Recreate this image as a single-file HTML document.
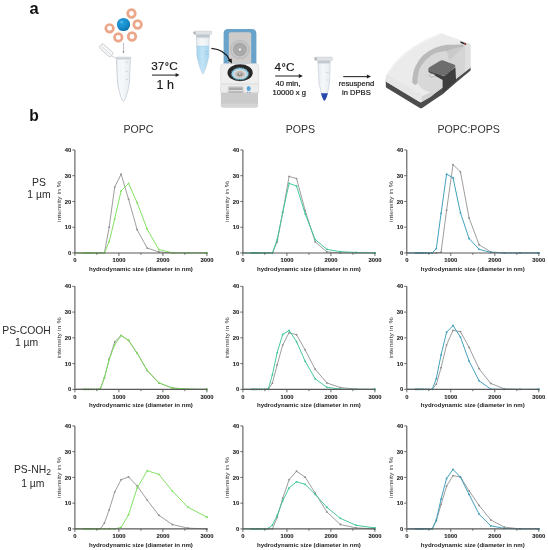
<!DOCTYPE html>
<html><head><meta charset="utf-8"><style>
html,body{margin:0;padding:0;background:#fff;overflow:hidden;width:548px;height:550px;}
svg{display:block;}
text{font-family:"Liberation Sans",Arial,sans-serif;}
.tk{font-size:5.85px;font-weight:bold;fill:#2a2a2a;stroke:#2a2a2a;stroke-width:0.12px;}
.xl{font-size:6.1px;font-weight:bold;fill:#222;}
.yl{font-size:7.0px;fill:#3c3c3c;}
.hd{font-size:10.6px;fill:#333;}
.rl{font-size:10.4px;fill:#2a2a2a;}
.pl{font-size:16.5px;font-weight:bold;fill:#111;}
.ar{font-size:11.8px;fill:#1a1a1a;stroke:#1a1a1a;stroke-width:0.18px;}
.sm{font-size:7.6px;fill:#1e1e1e;stroke:#1e1e1e;stroke-width:0.22px;}
</style></head><body>
<svg width="548" height="550" viewBox="0 0 548 550">
<rect width="548" height="550" fill="#fff"/>
<text x="29.6" y="13.6" class="pl">a</text>
<text x="29.2" y="120.9" class="pl" style="font-size:15.6px">b</text>
<defs>
<radialGradient id="bs" cx="0.4" cy="0.35" r="0.65">
<stop offset="0" stop-color="#2aa3e0"/><stop offset="0.7" stop-color="#1588c8"/><stop offset="1" stop-color="#0d6fa8"/>
</radialGradient>
<linearGradient id="lq" x1="0" y1="0" x2="1" y2="0">
<stop offset="0" stop-color="#a3d2ee"/><stop offset="0.45" stop-color="#c3e4f6"/><stop offset="1" stop-color="#a6d4ee"/>
</linearGradient>
<linearGradient id="tb" x1="0" y1="0" x2="1" y2="0">
<stop offset="0" stop-color="#e4ebf1"/><stop offset="0.4" stop-color="#f6f8fa"/><stop offset="1" stop-color="#e6edf2"/>
</linearGradient>
</defs>
<!-- liposomes -->
<g fill="none" stroke="#eca68a" stroke-width="2.7">
<circle cx="131.5" cy="13.5" r="3.8"/>
<circle cx="137.6" cy="24.5" r="3.8"/>
<circle cx="132" cy="36.5" r="3.8"/>
<circle cx="118.3" cy="37.4" r="3.8"/>
<circle cx="109.6" cy="28.3" r="3.8"/>
</g>
<circle cx="123.5" cy="24.5" r="6.6" fill="url(#bs)"/>
<ellipse cx="121.5" cy="22" rx="1.3" ry="1" fill="#6cc4ee" opacity="0.8"/>
<!-- arrow down -->
<line x1="123.5" y1="43" x2="123.5" y2="51.5" stroke="#888" stroke-width="0.55"/>
<path d="M122.6,51.2 L124.4,51.2 L123.5,53.6 Z" fill="#777"/>
<!-- tube 1 open -->
<g transform="translate(106.2,50.3) rotate(42)">
<rect x="-7.6" y="-2.8" width="15.2" height="5.6" rx="2" fill="#f4f6f8" stroke="#bcc1c6" stroke-width="0.7"/>
<line x1="-6.2" y1="0.3" x2="6.2" y2="0.3" stroke="#c8cdd2" stroke-width="0.6"/>
</g>
<path d="M111.5,56 L116.2,58" stroke="#bfc4c9" stroke-width="0.7" fill="none"/>
<rect x="115.9" y="57.1" width="15" height="1.9" rx="0.5" fill="#dde1e5" stroke="#c2c7cc" stroke-width="0.5"/>
<path d="M116.4,59 L130.4,59 L129.4,83 Q128.2,92 124.6,100.5 Q123.4,102.4 122.2,100.5 Q118.6,92 117.5,83 Z" fill="url(#tb)" stroke="#c2c9d0" stroke-width="0.7"/>
<path d="M118.8,60 L119.6,83 Q120.8,91 122.8,98" stroke="#f7f9fb" stroke-width="1.2" fill="none"/>
<g stroke="#b4bcc4" stroke-width="0.5">
<line x1="125.6" y1="62.2" x2="128" y2="62.2"/>
<line x1="125.6" y1="71.3" x2="128" y2="71.3"/>
<line x1="125.6" y1="79.6" x2="128" y2="79.6"/>
</g>
<!-- arrow 37C -->
<text x="151.3" y="69.5" class="ar">37<tspan style="font-family:'DejaVu Sans',sans-serif;font-size:9.6px">°</tspan>C</text>
<line x1="152" y1="75.1" x2="176.5" y2="75.1" stroke="#3a3a3a" stroke-width="1.15"/>
<path d="M175.6,73.1 L179.5,75.1 L175.6,77.1 Z" fill="#222"/>
<text x="156.6" y="88.6" class="ar" style="font-size:12.5px">1 h</text>
<!-- tube 2 with liquid -->
<path d="M193.2,32.4 Q193.4,31.2 194.8,31.1 L210.8,31.1 Q211.9,31.3 211.8,32.4 L211.4,34.5 L194.6,34.5 Z" fill="#dfe3e6" stroke="#c2c7cb" stroke-width="0.4"/>
<path d="M193.1,32.2 L195.6,32.2 L195.8,34.3 L194.2,34.3 Z" fill="#a9aeb3"/>
<rect x="196" y="34.5" width="13.8" height="3.1" fill="#c0c7cc"/>
<path d="M196.5,37.6 L209.2,37.6 L208.9,56 Q206.6,67 203.6,73.5 Q202.9,74.7 202.2,73.5 Q199.2,67 196.9,56 Z" fill="url(#tb)" stroke="#c3cbd2" stroke-width="0.6"/>
<path d="M196.85,46 L208.95,46 L208.9,56 Q206.6,67 203.6,73.2 Q202.9,74.4 202.2,73.2 Q199.2,67 196.9,56 Z" fill="url(#lq)"/>
<line x1="196.9" y1="46.2" x2="208.9" y2="46.2" stroke="#9fcfea" stroke-width="0.5"/>
<g stroke="#8fb8d0" stroke-width="0.45"><line x1="205" y1="51.3" x2="207.8" y2="51.3"/><line x1="205" y1="54.3" x2="207.8" y2="54.3"/></g>
<!-- centrifuge -->
<path d="M223.6,64 L223.6,33.6 Q223.6,29.1 228.1,29.1 L251.9,29.1 Q256.4,29.1 256.4,33.6 L256.4,64 Z" fill="#6aa3c9"/>
<path d="M228.8,63.4 L228.8,34.2 Q228.8,32.2 230.8,32.2 L249.2,32.2 Q251.2,32.2 251.2,34.2 L251.2,63.4 Z" fill="#cecbcb"/>
<circle cx="239.9" cy="49.5" r="9.8" fill="#bdbcbc"/>
<circle cx="239.9" cy="49.5" r="8.6" fill="#c9c8c8"/>
<circle cx="239.9" cy="49.5" r="7" fill="#aaa9a9"/>
<circle cx="239.9" cy="49.5" r="1.1" fill="#fff"/>
<path d="M220.6,66.6 Q220.6,63.6 223.6,63.6 L255.8,63.6 Q258.8,63.6 258.8,66.6 L258.8,84.1 L220.6,84.1 Z" fill="#efefef" stroke="#d2d2d2" stroke-width="0.5"/>
<ellipse cx="240.1" cy="72.8" rx="12.6" ry="8.5" fill="#262626"/>
<ellipse cx="240" cy="73.8" rx="8.5" ry="5.8" fill="#92d4ee"/>
<ellipse cx="240" cy="73.8" rx="8.8" ry="6.1" fill="none" stroke="#92d4ee" stroke-width="0.7" stroke-dasharray="1 0.8"/>
<ellipse cx="240" cy="74" rx="6.8" ry="4.5" fill="#dddbda"/>
<ellipse cx="239.9" cy="74.3" rx="5" ry="3.5" fill="#c4bcb8"/>
<ellipse cx="239.9" cy="74.4" rx="2.6" ry="1.8" fill="#8f8a88"/>
<ellipse cx="239.9" cy="73.9" rx="1" ry="0.8" fill="#e0dcda"/>
<rect x="220.6" y="84.1" width="38.2" height="10" rx="2.2" fill="#ececec" stroke="#d0d0d0" stroke-width="0.5"/>
<rect x="228.2" y="86.6" width="15" height="6.6" rx="0.6" fill="#dcdcdc" stroke="#bdbdbd" stroke-width="0.4"/>
<rect x="228.9" y="87.4" width="13.6" height="2.6" fill="#a9a9a9"/>
<rect x="228.7" y="91.6" width="14.1" height="1.1" fill="#8c8c8c"/>
<ellipse cx="248.7" cy="88.5" rx="2" ry="2.5" fill="#5ba6d8"/>
<circle cx="247.6" cy="92.4" r="0.7" fill="#3b82c2"/>
<circle cx="249.9" cy="92.4" r="0.7" fill="#3b82c2"/>
<path d="M220.9,92.5 L258,92.5 L258,104.8 Q258,107.6 255.2,107.6 L223.7,107.6 Q220.9,107.6 220.9,104.8 Z" fill="#cbcbcb"/>
<rect x="221.2" y="103.8" width="36.5" height="3.8" rx="1.6" fill="#d5d5d5"/>
<!-- curved arrow -->
<path d="M211.4,48.4 Q225,49.5 229.8,60.2" stroke="#1a1a1a" stroke-width="1.3" fill="none"/>
<path d="M227.6,60.3 L232,63.6 L231.6,58.6 Z" fill="#1a1a1a"/>
<!-- arrow 4C -->
<text x="274.6" y="70.9" class="ar">4<tspan style="font-family:'DejaVu Sans',sans-serif;font-size:9.6px">°</tspan>C</text>
<line x1="275.2" y1="76" x2="299.5" y2="76" stroke="#3a3a3a" stroke-width="1.15"/>
<path d="M298.8,74 L302.9,76 L298.8,78 Z" fill="#222"/>
<text x="287.9" y="86.1" class="sm" text-anchor="middle">40 min,</text>
<text x="289.2" y="94.8" class="sm" text-anchor="middle">10000 x g</text>
<!-- tube 3 pellet -->
<path d="M314.3,58 Q314.5,57 315.8,57 L331.5,57 Q332.6,57.2 332.5,58.2 L332.2,60.5 L315.2,60.5 Z" fill="#dfe3e6" stroke="#c2c7cb" stroke-width="0.4"/>
<path d="M314.2,57.8 L316.6,57.8 L316.8,60.3 L315.2,60.3 Z" fill="#a9aeb3"/>
<rect x="317.4" y="60.5" width="12.9" height="2.8" fill="#c3cacf"/>
<path d="M318,63.2 L330.2,63.2 L329.5,83 Q328,93 325.4,99.8 Q324.4,101.6 323.4,99.8 Q320.8,93 319,83 Z" fill="url(#tb)" stroke="#c4cbd1" stroke-width="0.6"/>
<path d="M320.9,93.2 L327.9,93.2 Q326.8,97.4 325.4,99.8 Q324.4,101.6 323.4,99.8 Q321.9,97 320.9,93.2 Z" fill="#2848ad"/>
<g stroke="#b8c0c8" stroke-width="0.45"><line x1="326" y1="72.5" x2="328.8" y2="72.5"/><line x1="326" y1="80" x2="328.5" y2="80"/></g>
<!-- arrow resuspend -->
<line x1="343.2" y1="76.6" x2="367.5" y2="76.6" stroke="#3a3a3a" stroke-width="1.15"/>
<path d="M366.9,74.6 L371,76.6 L366.9,78.6 Z" fill="#222"/>
<text x="356.4" y="86" class="sm" text-anchor="middle">resuspend</text>
<text x="356.4" y="95.1" class="sm" text-anchor="middle">in DPBS</text>
<!-- instrument -->
<g id="inst">
<!-- dark base -->
<path d="M385.8,79 L385.8,86.4 Q385.9,87.4 386.9,88 L419.8,107.9 Q421,108.6 422.2,107.9 L434.6,99.6 L442.6,94.2 L456.1,82.4 L470.6,70.6 L470.6,66 L421.6,97 Z" fill="#4c4c4c"/>
<!-- light body -->
<path d="M385.8,81.6 L385.8,77.5 Q385.8,75.4 387.1,73.4 Q397.5,56.6 415,45.8 Q428,37.2 439.3,33.9 Q441.3,33.2 443.3,33.9 L469.2,43.3 Q470.6,43.9 470.6,45.5 L470.6,67.6 L456.5,78.6 L442,88 L434.6,93.6 L431,96.5 L421.6,101.9 Q420.7,102.4 419.8,101.9 Z" fill="#ebebeb"/>
<!-- top edge highlight -->
<path d="M387.6,73.6 Q398,57.2 415.4,46.5 Q428.3,38 439.4,34.8" fill="none" stroke="#f3f3f3" stroke-width="1.4"/>
<!-- front face band -->
<path d="M385.8,81.6 L385.8,77 Q386,75.6 387,74.6 L422,95.2 L421.6,101.9 Q420.7,102.4 419.8,101.9 Z" fill="#e6e6e6"/>
<path d="M421.8,96.6 L431,92 L434.6,93.6 L431,96.5 L421.6,101.9 Z" fill="#d4d4d4"/>
<!-- right face -->
<path d="M465.2,45 L469.2,43.3 Q470.6,43.9 470.6,45.5 L470.6,67.6 L465.2,71.8 Z" fill="#e0e0e0"/>
<!-- back wall -->
<path d="M446.5,45.3 L465.2,45 L465.2,71.8 L456.5,78.6 L449,61 L446.5,51.1 Z" fill="#d5d5d5"/>
<path d="M463.5,46.6 Q455,47.6 446.5,51.1 L449,61 Z" fill="#cacaca"/>
<!-- floor -->
<path d="M417,82 Q417.5,74 419.1,69.2 Q421.5,64 425.5,59.9 Q429.5,56 434.9,53.4 Q438.5,52 446.5,51.1 L449,61 L456.5,78.6 L442,88 L434.6,93.6 L431,92 Q421,91 417,82 Z" fill="#d8d8d8"/>
<!-- groove band -->
<path d="M412.2,82.5 Q412.6,72 415.6,66 Q418.6,60 422.8,55.6 Q428.3,50.6 434.7,47.9 Q440.4,45.5 446.5,44.8 L463.5,44.6 L463.5,46.6 Q455,47.6 446.5,51.1 Q438.5,52 434.9,53.6 Q429.5,56.2 425.6,60.2 Q421.6,64.4 419.3,69.6 Q417.6,75 417.4,83.5 Q415,86.5 412.2,82.5 Z" fill="#bababa"/>
<!-- dark block -->
<path d="M428.6,68.4 L443.4,76.2 L455.4,67.2 L456.1,80.8 L442.6,92.4 L442.6,80 L428.6,72 Z" fill="#3e3e3e"/>
<path d="M428.7,69.6 Q428.3,67.8 429.8,66.9 L439.9,60.9 Q441.6,59.9 443.4,60.5 L454,64.6 Q456.2,65.5 454.8,67.3 L446.2,74.9 Q444.7,76.2 442.7,75.7 L430.3,71.9 Q428.9,71.3 428.7,70.1 Z" fill="#6d6d6d"/>
<ellipse cx="432" cy="75.4" rx="2.8" ry="1.6" fill="#dedede" stroke="#8e8e8e" stroke-width="0.45"/>
<!-- indicator -->
<path d="M460.3,42.2 Q460,41.4 461,41.6 L466.2,43.6 L466.2,44.6 Q466,45 465.2,44.7 L460.8,43.1 Z" fill="#222"/>
<path d="M464.4,43 L466.2,43.6 L466.2,44.6 L464.4,44 Z" fill="#d33"/>
</g>

<text x="138.4" y="133.2" class="hd" text-anchor="middle">POPC</text>
<text x="300.4" y="133.2" class="hd" text-anchor="middle">POPS</text>
<text x="468.6" y="133.2" class="hd" text-anchor="middle">POPC:POPS</text>
<text x="39" y="185.6" class="rl" text-anchor="middle">PS</text>
<text x="39" y="197.9" class="rl" text-anchor="middle">1 µm</text>
<text x="26.6" y="333.9" class="rl" text-anchor="middle">PS-COOH</text>
<text x="26.6" y="345.9" class="rl" text-anchor="middle">1 µm</text>
<text x="32.5" y="473" class="rl" text-anchor="middle">PS-NH<tspan font-size="8.6px" dy="2.1">2</tspan></text>
<text x="32.8" y="487.2" class="rl" text-anchor="middle">1 µm</text>
<polyline points="74.90,252.95 75.42,252.95 75.51,252.95 75.61,252.95 75.72,252.95 75.85,252.95 76.01,252.95 76.18,252.95 76.39,252.95 76.63,252.95 76.91,252.95 77.23,252.95 77.61,252.95 78.05,252.95 78.55,252.95 79.14,252.95 79.82,252.95 80.61,252.95 81.53,252.95 82.60,252.95 83.84,252.95 85.28,252.95 86.95,252.95 88.90,252.95 91.15,252.95 93.76,252.95 96.80,252.95 100.33,252.95 104.42,252.95 109.18,227.20 114.69,187.03 121.10,174.15 128.54,199.13 137.17,229.77 147.20,248.06 158.84,251.92 172.35,252.95 188.04,252.95 206.26,252.95 207.10,252.95" fill="none" stroke="#8c8c8c" stroke-width="0.85" stroke-linejoin="round"/>
<circle cx="83.84" cy="252.95" r="0.9" fill="#8c8c8c"/>
<circle cx="85.28" cy="252.95" r="0.9" fill="#8c8c8c"/>
<circle cx="86.95" cy="252.95" r="0.9" fill="#8c8c8c"/>
<circle cx="88.90" cy="252.95" r="0.9" fill="#8c8c8c"/>
<circle cx="91.15" cy="252.95" r="0.9" fill="#8c8c8c"/>
<circle cx="93.76" cy="252.95" r="0.9" fill="#8c8c8c"/>
<circle cx="96.80" cy="252.95" r="0.9" fill="#8c8c8c"/>
<circle cx="100.33" cy="252.95" r="0.9" fill="#8c8c8c"/>
<circle cx="104.42" cy="252.95" r="0.9" fill="#8c8c8c"/>
<circle cx="109.18" cy="227.20" r="0.9" fill="#8c8c8c"/>
<circle cx="114.69" cy="187.03" r="0.9" fill="#8c8c8c"/>
<circle cx="121.10" cy="174.15" r="0.9" fill="#8c8c8c"/>
<circle cx="128.54" cy="199.13" r="0.9" fill="#8c8c8c"/>
<circle cx="137.17" cy="229.77" r="0.9" fill="#8c8c8c"/>
<circle cx="147.20" cy="248.06" r="0.9" fill="#8c8c8c"/>
<circle cx="158.84" cy="251.92" r="0.9" fill="#8c8c8c"/>
<circle cx="172.35" cy="252.95" r="0.9" fill="#8c8c8c"/>
<circle cx="188.04" cy="252.95" r="0.9" fill="#8c8c8c"/>
<circle cx="206.26" cy="252.95" r="0.9" fill="#8c8c8c"/>
<circle cx="207.10" cy="252.95" r="0.9" fill="#8c8c8c"/>
<polyline points="74.90,252.95 75.42,252.95 75.51,252.95 75.61,252.95 75.72,252.95 75.85,252.95 76.01,252.95 76.18,252.95 76.39,252.95 76.63,252.95 76.91,252.95 77.23,252.95 77.61,252.95 78.05,252.95 78.55,252.95 79.14,252.95 79.82,252.95 80.61,252.95 81.53,252.95 82.60,252.95 83.84,252.95 85.28,252.95 86.95,252.95 88.90,252.95 91.15,252.95 93.76,252.95 96.80,252.95 100.33,252.95 104.42,252.95 109.18,241.62 114.69,218.96 121.10,190.89 128.54,183.42 137.17,202.74 147.20,229.26 158.84,249.60 172.35,252.69 188.04,252.95 206.26,252.95 207.10,252.95" fill="none" stroke="#7ddf5c" stroke-width="0.95" stroke-linejoin="round"/>
<circle cx="83.84" cy="252.95" r="0.9" fill="#7ddf5c"/>
<circle cx="85.28" cy="252.95" r="0.9" fill="#7ddf5c"/>
<circle cx="86.95" cy="252.95" r="0.9" fill="#7ddf5c"/>
<circle cx="88.90" cy="252.95" r="0.9" fill="#7ddf5c"/>
<circle cx="91.15" cy="252.95" r="0.9" fill="#7ddf5c"/>
<circle cx="93.76" cy="252.95" r="0.9" fill="#7ddf5c"/>
<circle cx="96.80" cy="252.95" r="0.9" fill="#7ddf5c"/>
<circle cx="100.33" cy="252.95" r="0.9" fill="#7ddf5c"/>
<circle cx="104.42" cy="252.95" r="0.9" fill="#7ddf5c"/>
<circle cx="109.18" cy="241.62" r="0.9" fill="#7ddf5c"/>
<circle cx="114.69" cy="218.96" r="0.9" fill="#7ddf5c"/>
<circle cx="121.10" cy="190.89" r="0.9" fill="#7ddf5c"/>
<circle cx="128.54" cy="183.42" r="0.9" fill="#7ddf5c"/>
<circle cx="137.17" cy="202.74" r="0.9" fill="#7ddf5c"/>
<circle cx="147.20" cy="229.26" r="0.9" fill="#7ddf5c"/>
<circle cx="158.84" cy="249.60" r="0.9" fill="#7ddf5c"/>
<circle cx="172.35" cy="252.69" r="0.9" fill="#7ddf5c"/>
<circle cx="188.04" cy="252.95" r="0.9" fill="#7ddf5c"/>
<circle cx="206.26" cy="252.95" r="0.9" fill="#7ddf5c"/>
<circle cx="207.10" cy="252.95" r="0.9" fill="#7ddf5c"/>
<path d="M74.90,149.95 V252.95 H207.10" fill="none" stroke="#5a5a5a" stroke-width="1.1"/>
<line x1="72.30" y1="252.95" x2="74.90" y2="252.95" stroke="#5a5a5a" stroke-width="0.9"/>
<text x="71.30" y="255.05" class="tk" text-anchor="end">0</text>
<line x1="72.30" y1="227.20" x2="74.90" y2="227.20" stroke="#5a5a5a" stroke-width="0.9"/>
<text x="71.30" y="229.30" class="tk" text-anchor="end">10</text>
<line x1="72.30" y1="201.45" x2="74.90" y2="201.45" stroke="#5a5a5a" stroke-width="0.9"/>
<text x="71.30" y="203.55" class="tk" text-anchor="end">20</text>
<line x1="72.30" y1="175.70" x2="74.90" y2="175.70" stroke="#5a5a5a" stroke-width="0.9"/>
<text x="71.30" y="177.80" class="tk" text-anchor="end">30</text>
<line x1="72.30" y1="149.95" x2="74.90" y2="149.95" stroke="#5a5a5a" stroke-width="0.9"/>
<text x="71.30" y="152.05" class="tk" text-anchor="end">40</text>
<line x1="74.90" y1="252.95" x2="74.90" y2="255.95" stroke="#5a5a5a" stroke-width="0.9"/>
<text x="74.90" y="262.15" class="tk" text-anchor="middle">0</text>
<line x1="96.90" y1="252.95" x2="96.90" y2="254.75" stroke="#5a5a5a" stroke-width="0.9"/>
<line x1="118.90" y1="252.95" x2="118.90" y2="255.95" stroke="#5a5a5a" stroke-width="0.9"/>
<text x="118.90" y="262.15" class="tk" text-anchor="middle">1000</text>
<line x1="140.90" y1="252.95" x2="140.90" y2="254.75" stroke="#5a5a5a" stroke-width="0.9"/>
<line x1="162.90" y1="252.95" x2="162.90" y2="255.95" stroke="#5a5a5a" stroke-width="0.9"/>
<text x="162.90" y="262.15" class="tk" text-anchor="middle">2000</text>
<line x1="184.90" y1="252.95" x2="184.90" y2="254.75" stroke="#5a5a5a" stroke-width="0.9"/>
<line x1="206.90" y1="252.95" x2="206.90" y2="255.95" stroke="#5a5a5a" stroke-width="0.9"/>
<text x="206.90" y="262.15" class="tk" text-anchor="middle">3000</text>
<text x="140.90" y="270.75" class="xl" text-anchor="middle">hydrodynamic size (diameter in nm)</text>
<text transform="translate(61.00,201.55) rotate(-90) scale(1,0.8)" class="yl" text-anchor="middle">intensity in %</text>
<polyline points="242.90,252.95 243.42,252.95 243.51,252.95 243.61,252.95 243.72,252.95 243.85,252.95 244.01,252.95 244.18,252.95 244.39,252.95 244.63,252.95 244.91,252.95 245.23,252.95 245.61,252.95 246.05,252.95 246.55,252.95 247.14,252.95 247.82,252.95 248.61,252.95 249.53,252.95 250.60,252.95 251.84,252.95 253.28,252.95 254.95,252.95 256.90,252.95 259.15,252.95 261.76,252.95 264.80,252.95 268.33,252.95 272.42,252.95 277.18,241.88 282.69,212.52 289.10,176.47 296.54,178.53 305.17,210.46 315.20,241.88 326.84,251.92 340.35,252.95 356.04,252.95 374.26,252.95 375.10,252.95" fill="none" stroke="#8c8c8c" stroke-width="0.85" stroke-linejoin="round"/>
<circle cx="251.84" cy="252.95" r="0.9" fill="#8c8c8c"/>
<circle cx="253.28" cy="252.95" r="0.9" fill="#8c8c8c"/>
<circle cx="254.95" cy="252.95" r="0.9" fill="#8c8c8c"/>
<circle cx="256.90" cy="252.95" r="0.9" fill="#8c8c8c"/>
<circle cx="259.15" cy="252.95" r="0.9" fill="#8c8c8c"/>
<circle cx="261.76" cy="252.95" r="0.9" fill="#8c8c8c"/>
<circle cx="264.80" cy="252.95" r="0.9" fill="#8c8c8c"/>
<circle cx="268.33" cy="252.95" r="0.9" fill="#8c8c8c"/>
<circle cx="272.42" cy="252.95" r="0.9" fill="#8c8c8c"/>
<circle cx="277.18" cy="241.88" r="0.9" fill="#8c8c8c"/>
<circle cx="282.69" cy="212.52" r="0.9" fill="#8c8c8c"/>
<circle cx="289.10" cy="176.47" r="0.9" fill="#8c8c8c"/>
<circle cx="296.54" cy="178.53" r="0.9" fill="#8c8c8c"/>
<circle cx="305.17" cy="210.46" r="0.9" fill="#8c8c8c"/>
<circle cx="315.20" cy="241.88" r="0.9" fill="#8c8c8c"/>
<circle cx="326.84" cy="251.92" r="0.9" fill="#8c8c8c"/>
<circle cx="340.35" cy="252.95" r="0.9" fill="#8c8c8c"/>
<circle cx="356.04" cy="252.95" r="0.9" fill="#8c8c8c"/>
<circle cx="374.26" cy="252.95" r="0.9" fill="#8c8c8c"/>
<circle cx="375.10" cy="252.95" r="0.9" fill="#8c8c8c"/>
<polyline points="242.90,252.95 243.42,252.95 243.51,252.95 243.61,252.95 243.72,252.95 243.85,252.95 244.01,252.95 244.18,252.95 244.39,252.95 244.63,252.95 244.91,252.95 245.23,252.95 245.61,252.95 246.05,252.95 246.55,252.95 247.14,252.95 247.82,252.95 248.61,252.95 249.53,252.95 250.60,252.95 251.84,252.95 253.28,252.95 254.95,252.95 256.90,252.95 259.15,252.95 261.76,252.95 264.80,252.95 268.33,252.95 272.42,252.95 277.18,239.56 282.69,212.52 289.10,183.42 296.54,186.00 305.17,213.81 315.20,239.56 326.84,249.34 340.35,251.66 356.04,252.44 374.26,252.95 375.10,252.95" fill="none" stroke="#3cc49c" stroke-width="0.95" stroke-linejoin="round"/>
<circle cx="251.84" cy="252.95" r="0.9" fill="#3cc49c"/>
<circle cx="253.28" cy="252.95" r="0.9" fill="#3cc49c"/>
<circle cx="254.95" cy="252.95" r="0.9" fill="#3cc49c"/>
<circle cx="256.90" cy="252.95" r="0.9" fill="#3cc49c"/>
<circle cx="259.15" cy="252.95" r="0.9" fill="#3cc49c"/>
<circle cx="261.76" cy="252.95" r="0.9" fill="#3cc49c"/>
<circle cx="264.80" cy="252.95" r="0.9" fill="#3cc49c"/>
<circle cx="268.33" cy="252.95" r="0.9" fill="#3cc49c"/>
<circle cx="272.42" cy="252.95" r="0.9" fill="#3cc49c"/>
<circle cx="277.18" cy="239.56" r="0.9" fill="#3cc49c"/>
<circle cx="282.69" cy="212.52" r="0.9" fill="#3cc49c"/>
<circle cx="289.10" cy="183.42" r="0.9" fill="#3cc49c"/>
<circle cx="296.54" cy="186.00" r="0.9" fill="#3cc49c"/>
<circle cx="305.17" cy="213.81" r="0.9" fill="#3cc49c"/>
<circle cx="315.20" cy="239.56" r="0.9" fill="#3cc49c"/>
<circle cx="326.84" cy="249.34" r="0.9" fill="#3cc49c"/>
<circle cx="340.35" cy="251.66" r="0.9" fill="#3cc49c"/>
<circle cx="356.04" cy="252.44" r="0.9" fill="#3cc49c"/>
<circle cx="374.26" cy="252.95" r="0.9" fill="#3cc49c"/>
<circle cx="375.10" cy="252.95" r="0.9" fill="#3cc49c"/>
<path d="M242.90,149.95 V252.95 H375.10" fill="none" stroke="#5a5a5a" stroke-width="1.1"/>
<line x1="240.30" y1="252.95" x2="242.90" y2="252.95" stroke="#5a5a5a" stroke-width="0.9"/>
<text x="239.30" y="255.05" class="tk" text-anchor="end">0</text>
<line x1="240.30" y1="227.20" x2="242.90" y2="227.20" stroke="#5a5a5a" stroke-width="0.9"/>
<text x="239.30" y="229.30" class="tk" text-anchor="end">10</text>
<line x1="240.30" y1="201.45" x2="242.90" y2="201.45" stroke="#5a5a5a" stroke-width="0.9"/>
<text x="239.30" y="203.55" class="tk" text-anchor="end">20</text>
<line x1="240.30" y1="175.70" x2="242.90" y2="175.70" stroke="#5a5a5a" stroke-width="0.9"/>
<text x="239.30" y="177.80" class="tk" text-anchor="end">30</text>
<line x1="240.30" y1="149.95" x2="242.90" y2="149.95" stroke="#5a5a5a" stroke-width="0.9"/>
<text x="239.30" y="152.05" class="tk" text-anchor="end">40</text>
<line x1="242.90" y1="252.95" x2="242.90" y2="255.95" stroke="#5a5a5a" stroke-width="0.9"/>
<text x="242.90" y="262.15" class="tk" text-anchor="middle">0</text>
<line x1="264.90" y1="252.95" x2="264.90" y2="254.75" stroke="#5a5a5a" stroke-width="0.9"/>
<line x1="286.90" y1="252.95" x2="286.90" y2="255.95" stroke="#5a5a5a" stroke-width="0.9"/>
<text x="286.90" y="262.15" class="tk" text-anchor="middle">1000</text>
<line x1="308.90" y1="252.95" x2="308.90" y2="254.75" stroke="#5a5a5a" stroke-width="0.9"/>
<line x1="330.90" y1="252.95" x2="330.90" y2="255.95" stroke="#5a5a5a" stroke-width="0.9"/>
<text x="330.90" y="262.15" class="tk" text-anchor="middle">2000</text>
<line x1="352.90" y1="252.95" x2="352.90" y2="254.75" stroke="#5a5a5a" stroke-width="0.9"/>
<line x1="374.90" y1="252.95" x2="374.90" y2="255.95" stroke="#5a5a5a" stroke-width="0.9"/>
<text x="374.90" y="262.15" class="tk" text-anchor="middle">3000</text>
<text x="308.90" y="270.75" class="xl" text-anchor="middle">hydrodynamic size (diameter in nm)</text>
<text transform="translate(229.00,201.55) rotate(-90) scale(1,0.8)" class="yl" text-anchor="middle">intensity in %</text>
<polyline points="406.80,252.95 407.32,252.95 407.41,252.95 407.51,252.95 407.62,252.95 407.75,252.95 407.91,252.95 408.08,252.95 408.29,252.95 408.53,252.95 408.81,252.95 409.13,252.95 409.51,252.95 409.95,252.95 410.45,252.95 411.04,252.95 411.72,252.95 412.51,252.95 413.43,252.95 414.50,252.95 415.74,252.95 417.18,252.95 418.85,252.95 420.80,252.95 423.05,252.95 425.66,252.95 428.70,252.95 432.23,252.95 436.32,252.95 441.08,252.18 446.59,210.20 453.00,164.63 460.44,171.84 469.07,217.93 479.10,244.71 490.74,251.92 504.25,252.95 519.94,252.95 538.16,252.95 539.00,252.95" fill="none" stroke="#8c8c8c" stroke-width="0.85" stroke-linejoin="round"/>
<circle cx="415.74" cy="252.95" r="0.9" fill="#8c8c8c"/>
<circle cx="417.18" cy="252.95" r="0.9" fill="#8c8c8c"/>
<circle cx="418.85" cy="252.95" r="0.9" fill="#8c8c8c"/>
<circle cx="420.80" cy="252.95" r="0.9" fill="#8c8c8c"/>
<circle cx="423.05" cy="252.95" r="0.9" fill="#8c8c8c"/>
<circle cx="425.66" cy="252.95" r="0.9" fill="#8c8c8c"/>
<circle cx="428.70" cy="252.95" r="0.9" fill="#8c8c8c"/>
<circle cx="432.23" cy="252.95" r="0.9" fill="#8c8c8c"/>
<circle cx="436.32" cy="252.95" r="0.9" fill="#8c8c8c"/>
<circle cx="441.08" cy="252.18" r="0.9" fill="#8c8c8c"/>
<circle cx="446.59" cy="210.20" r="0.9" fill="#8c8c8c"/>
<circle cx="453.00" cy="164.63" r="0.9" fill="#8c8c8c"/>
<circle cx="460.44" cy="171.84" r="0.9" fill="#8c8c8c"/>
<circle cx="469.07" cy="217.93" r="0.9" fill="#8c8c8c"/>
<circle cx="479.10" cy="244.71" r="0.9" fill="#8c8c8c"/>
<circle cx="490.74" cy="251.92" r="0.9" fill="#8c8c8c"/>
<circle cx="504.25" cy="252.95" r="0.9" fill="#8c8c8c"/>
<circle cx="519.94" cy="252.95" r="0.9" fill="#8c8c8c"/>
<circle cx="538.16" cy="252.95" r="0.9" fill="#8c8c8c"/>
<circle cx="539.00" cy="252.95" r="0.9" fill="#8c8c8c"/>
<polyline points="406.80,252.95 407.32,252.95 407.41,252.95 407.51,252.95 407.62,252.95 407.75,252.95 407.91,252.95 408.08,252.95 408.29,252.95 408.53,252.95 408.81,252.95 409.13,252.95 409.51,252.95 409.95,252.95 410.45,252.95 411.04,252.95 411.72,252.95 412.51,252.95 413.43,252.95 414.50,252.95 415.74,252.95 417.18,252.95 418.85,252.95 420.80,252.95 423.05,252.95 425.66,252.95 428.70,252.95 432.23,252.95 436.32,248.57 441.08,213.29 446.59,174.15 453.00,177.76 460.44,212.78 469.07,238.53 479.10,249.34 490.74,252.44 504.25,252.95 519.94,252.95 538.16,252.95 539.00,252.95" fill="none" stroke="#3a9cba" stroke-width="0.95" stroke-linejoin="round"/>
<circle cx="415.74" cy="252.95" r="0.9" fill="#3a9cba"/>
<circle cx="417.18" cy="252.95" r="0.9" fill="#3a9cba"/>
<circle cx="418.85" cy="252.95" r="0.9" fill="#3a9cba"/>
<circle cx="420.80" cy="252.95" r="0.9" fill="#3a9cba"/>
<circle cx="423.05" cy="252.95" r="0.9" fill="#3a9cba"/>
<circle cx="425.66" cy="252.95" r="0.9" fill="#3a9cba"/>
<circle cx="428.70" cy="252.95" r="0.9" fill="#3a9cba"/>
<circle cx="432.23" cy="252.95" r="0.9" fill="#3a9cba"/>
<circle cx="436.32" cy="248.57" r="0.9" fill="#3a9cba"/>
<circle cx="441.08" cy="213.29" r="0.9" fill="#3a9cba"/>
<circle cx="446.59" cy="174.15" r="0.9" fill="#3a9cba"/>
<circle cx="453.00" cy="177.76" r="0.9" fill="#3a9cba"/>
<circle cx="460.44" cy="212.78" r="0.9" fill="#3a9cba"/>
<circle cx="469.07" cy="238.53" r="0.9" fill="#3a9cba"/>
<circle cx="479.10" cy="249.34" r="0.9" fill="#3a9cba"/>
<circle cx="490.74" cy="252.44" r="0.9" fill="#3a9cba"/>
<circle cx="504.25" cy="252.95" r="0.9" fill="#3a9cba"/>
<circle cx="519.94" cy="252.95" r="0.9" fill="#3a9cba"/>
<circle cx="538.16" cy="252.95" r="0.9" fill="#3a9cba"/>
<circle cx="539.00" cy="252.95" r="0.9" fill="#3a9cba"/>
<path d="M406.80,149.95 V252.95 H539.00" fill="none" stroke="#5a5a5a" stroke-width="1.1"/>
<line x1="404.20" y1="252.95" x2="406.80" y2="252.95" stroke="#5a5a5a" stroke-width="0.9"/>
<text x="403.20" y="255.05" class="tk" text-anchor="end">0</text>
<line x1="404.20" y1="227.20" x2="406.80" y2="227.20" stroke="#5a5a5a" stroke-width="0.9"/>
<text x="403.20" y="229.30" class="tk" text-anchor="end">10</text>
<line x1="404.20" y1="201.45" x2="406.80" y2="201.45" stroke="#5a5a5a" stroke-width="0.9"/>
<text x="403.20" y="203.55" class="tk" text-anchor="end">20</text>
<line x1="404.20" y1="175.70" x2="406.80" y2="175.70" stroke="#5a5a5a" stroke-width="0.9"/>
<text x="403.20" y="177.80" class="tk" text-anchor="end">30</text>
<line x1="404.20" y1="149.95" x2="406.80" y2="149.95" stroke="#5a5a5a" stroke-width="0.9"/>
<text x="403.20" y="152.05" class="tk" text-anchor="end">40</text>
<line x1="406.80" y1="252.95" x2="406.80" y2="255.95" stroke="#5a5a5a" stroke-width="0.9"/>
<text x="406.80" y="262.15" class="tk" text-anchor="middle">0</text>
<line x1="428.80" y1="252.95" x2="428.80" y2="254.75" stroke="#5a5a5a" stroke-width="0.9"/>
<line x1="450.80" y1="252.95" x2="450.80" y2="255.95" stroke="#5a5a5a" stroke-width="0.9"/>
<text x="450.80" y="262.15" class="tk" text-anchor="middle">1000</text>
<line x1="472.80" y1="252.95" x2="472.80" y2="254.75" stroke="#5a5a5a" stroke-width="0.9"/>
<line x1="494.80" y1="252.95" x2="494.80" y2="255.95" stroke="#5a5a5a" stroke-width="0.9"/>
<text x="494.80" y="262.15" class="tk" text-anchor="middle">2000</text>
<line x1="516.80" y1="252.95" x2="516.80" y2="254.75" stroke="#5a5a5a" stroke-width="0.9"/>
<line x1="538.80" y1="252.95" x2="538.80" y2="255.95" stroke="#5a5a5a" stroke-width="0.9"/>
<text x="538.80" y="262.15" class="tk" text-anchor="middle">3000</text>
<text x="472.80" y="270.75" class="xl" text-anchor="middle">hydrodynamic size (diameter in nm)</text>
<text transform="translate(392.90,201.55) rotate(-90) scale(1,0.8)" class="yl" text-anchor="middle">intensity in %</text>
<polyline points="74.90,389.35 75.42,389.35 75.51,389.35 75.61,389.35 75.72,389.35 75.85,389.35 76.01,389.35 76.18,389.35 76.39,389.35 76.63,389.35 76.91,389.35 77.23,389.35 77.61,389.35 78.05,389.35 78.55,389.35 79.14,389.35 79.82,389.35 80.61,389.35 81.53,389.35 82.60,389.35 83.84,389.35 85.28,389.35 86.95,389.35 88.90,389.35 91.15,389.35 93.76,389.35 96.80,389.35 100.33,388.84 104.42,377.76 109.18,358.97 114.69,341.97 121.10,335.28 128.54,340.43 137.17,353.30 147.20,370.55 158.84,382.91 172.35,388.06 188.04,389.09 206.26,389.35 207.10,389.35" fill="none" stroke="#8c8c8c" stroke-width="0.85" stroke-linejoin="round"/>
<circle cx="83.84" cy="389.35" r="0.9" fill="#8c8c8c"/>
<circle cx="85.28" cy="389.35" r="0.9" fill="#8c8c8c"/>
<circle cx="86.95" cy="389.35" r="0.9" fill="#8c8c8c"/>
<circle cx="88.90" cy="389.35" r="0.9" fill="#8c8c8c"/>
<circle cx="91.15" cy="389.35" r="0.9" fill="#8c8c8c"/>
<circle cx="93.76" cy="389.35" r="0.9" fill="#8c8c8c"/>
<circle cx="96.80" cy="389.35" r="0.9" fill="#8c8c8c"/>
<circle cx="100.33" cy="388.84" r="0.9" fill="#8c8c8c"/>
<circle cx="104.42" cy="377.76" r="0.9" fill="#8c8c8c"/>
<circle cx="109.18" cy="358.97" r="0.9" fill="#8c8c8c"/>
<circle cx="114.69" cy="341.97" r="0.9" fill="#8c8c8c"/>
<circle cx="121.10" cy="335.28" r="0.9" fill="#8c8c8c"/>
<circle cx="128.54" cy="340.43" r="0.9" fill="#8c8c8c"/>
<circle cx="137.17" cy="353.30" r="0.9" fill="#8c8c8c"/>
<circle cx="147.20" cy="370.55" r="0.9" fill="#8c8c8c"/>
<circle cx="158.84" cy="382.91" r="0.9" fill="#8c8c8c"/>
<circle cx="172.35" cy="388.06" r="0.9" fill="#8c8c8c"/>
<circle cx="188.04" cy="389.09" r="0.9" fill="#8c8c8c"/>
<circle cx="206.26" cy="389.35" r="0.9" fill="#8c8c8c"/>
<circle cx="207.10" cy="389.35" r="0.9" fill="#8c8c8c"/>
<polyline points="74.90,389.35 75.42,389.35 75.51,389.35 75.61,389.35 75.72,389.35 75.85,389.35 76.01,389.35 76.18,389.35 76.39,389.35 76.63,389.35 76.91,389.35 77.23,389.35 77.61,389.35 78.05,389.35 78.55,389.35 79.14,389.35 79.82,389.35 80.61,389.35 81.53,389.35 82.60,389.35 83.84,389.35 85.28,389.35 86.95,389.35 88.90,389.35 91.15,389.35 93.76,389.35 96.80,389.35 100.33,388.84 104.42,377.76 109.18,359.74 114.69,344.80 121.10,335.53 128.54,340.17 137.17,353.04 147.20,370.30 158.84,382.66 172.35,388.06 188.04,389.09 206.26,389.35 207.10,389.35" fill="none" stroke="#7ddf5c" stroke-width="0.95" stroke-linejoin="round"/>
<circle cx="83.84" cy="389.35" r="0.9" fill="#7ddf5c"/>
<circle cx="85.28" cy="389.35" r="0.9" fill="#7ddf5c"/>
<circle cx="86.95" cy="389.35" r="0.9" fill="#7ddf5c"/>
<circle cx="88.90" cy="389.35" r="0.9" fill="#7ddf5c"/>
<circle cx="91.15" cy="389.35" r="0.9" fill="#7ddf5c"/>
<circle cx="93.76" cy="389.35" r="0.9" fill="#7ddf5c"/>
<circle cx="96.80" cy="389.35" r="0.9" fill="#7ddf5c"/>
<circle cx="100.33" cy="388.84" r="0.9" fill="#7ddf5c"/>
<circle cx="104.42" cy="377.76" r="0.9" fill="#7ddf5c"/>
<circle cx="109.18" cy="359.74" r="0.9" fill="#7ddf5c"/>
<circle cx="114.69" cy="344.80" r="0.9" fill="#7ddf5c"/>
<circle cx="121.10" cy="335.53" r="0.9" fill="#7ddf5c"/>
<circle cx="128.54" cy="340.17" r="0.9" fill="#7ddf5c"/>
<circle cx="137.17" cy="353.04" r="0.9" fill="#7ddf5c"/>
<circle cx="147.20" cy="370.30" r="0.9" fill="#7ddf5c"/>
<circle cx="158.84" cy="382.66" r="0.9" fill="#7ddf5c"/>
<circle cx="172.35" cy="388.06" r="0.9" fill="#7ddf5c"/>
<circle cx="188.04" cy="389.09" r="0.9" fill="#7ddf5c"/>
<circle cx="206.26" cy="389.35" r="0.9" fill="#7ddf5c"/>
<circle cx="207.10" cy="389.35" r="0.9" fill="#7ddf5c"/>
<path d="M74.90,286.35 V389.35 H207.10" fill="none" stroke="#5a5a5a" stroke-width="1.1"/>
<line x1="72.30" y1="389.35" x2="74.90" y2="389.35" stroke="#5a5a5a" stroke-width="0.9"/>
<text x="71.30" y="391.45" class="tk" text-anchor="end">0</text>
<line x1="72.30" y1="363.60" x2="74.90" y2="363.60" stroke="#5a5a5a" stroke-width="0.9"/>
<text x="71.30" y="365.70" class="tk" text-anchor="end">10</text>
<line x1="72.30" y1="337.85" x2="74.90" y2="337.85" stroke="#5a5a5a" stroke-width="0.9"/>
<text x="71.30" y="339.95" class="tk" text-anchor="end">20</text>
<line x1="72.30" y1="312.10" x2="74.90" y2="312.10" stroke="#5a5a5a" stroke-width="0.9"/>
<text x="71.30" y="314.20" class="tk" text-anchor="end">30</text>
<line x1="72.30" y1="286.35" x2="74.90" y2="286.35" stroke="#5a5a5a" stroke-width="0.9"/>
<text x="71.30" y="288.45" class="tk" text-anchor="end">40</text>
<line x1="74.90" y1="389.35" x2="74.90" y2="392.35" stroke="#5a5a5a" stroke-width="0.9"/>
<text x="74.90" y="398.55" class="tk" text-anchor="middle">0</text>
<line x1="96.90" y1="389.35" x2="96.90" y2="391.15" stroke="#5a5a5a" stroke-width="0.9"/>
<line x1="118.90" y1="389.35" x2="118.90" y2="392.35" stroke="#5a5a5a" stroke-width="0.9"/>
<text x="118.90" y="398.55" class="tk" text-anchor="middle">1000</text>
<line x1="140.90" y1="389.35" x2="140.90" y2="391.15" stroke="#5a5a5a" stroke-width="0.9"/>
<line x1="162.90" y1="389.35" x2="162.90" y2="392.35" stroke="#5a5a5a" stroke-width="0.9"/>
<text x="162.90" y="398.55" class="tk" text-anchor="middle">2000</text>
<line x1="184.90" y1="389.35" x2="184.90" y2="391.15" stroke="#5a5a5a" stroke-width="0.9"/>
<line x1="206.90" y1="389.35" x2="206.90" y2="392.35" stroke="#5a5a5a" stroke-width="0.9"/>
<text x="206.90" y="398.55" class="tk" text-anchor="middle">3000</text>
<text x="140.90" y="407.15" class="xl" text-anchor="middle">hydrodynamic size (diameter in nm)</text>
<text transform="translate(61.00,337.95) rotate(-90) scale(1,0.8)" class="yl" text-anchor="middle">intensity in %</text>
<polyline points="242.90,389.35 243.42,389.35 243.51,389.35 243.61,389.35 243.72,389.35 243.85,389.35 244.01,389.35 244.18,389.35 244.39,389.35 244.63,389.35 244.91,389.35 245.23,389.35 245.61,389.35 246.05,389.35 246.55,389.35 247.14,389.35 247.82,389.35 248.61,389.35 249.53,389.35 250.60,389.35 251.84,389.35 253.28,389.35 254.95,389.35 256.90,389.35 259.15,389.35 261.76,389.35 264.80,389.35 268.33,389.35 272.42,383.17 277.18,364.89 282.69,345.06 289.10,332.70 296.54,334.76 305.17,349.95 315.20,369.27 326.84,382.91 340.35,387.55 356.04,389.09 374.26,389.35 375.10,389.35" fill="none" stroke="#8c8c8c" stroke-width="0.85" stroke-linejoin="round"/>
<circle cx="251.84" cy="389.35" r="0.9" fill="#8c8c8c"/>
<circle cx="253.28" cy="389.35" r="0.9" fill="#8c8c8c"/>
<circle cx="254.95" cy="389.35" r="0.9" fill="#8c8c8c"/>
<circle cx="256.90" cy="389.35" r="0.9" fill="#8c8c8c"/>
<circle cx="259.15" cy="389.35" r="0.9" fill="#8c8c8c"/>
<circle cx="261.76" cy="389.35" r="0.9" fill="#8c8c8c"/>
<circle cx="264.80" cy="389.35" r="0.9" fill="#8c8c8c"/>
<circle cx="268.33" cy="389.35" r="0.9" fill="#8c8c8c"/>
<circle cx="272.42" cy="383.17" r="0.9" fill="#8c8c8c"/>
<circle cx="277.18" cy="364.89" r="0.9" fill="#8c8c8c"/>
<circle cx="282.69" cy="345.06" r="0.9" fill="#8c8c8c"/>
<circle cx="289.10" cy="332.70" r="0.9" fill="#8c8c8c"/>
<circle cx="296.54" cy="334.76" r="0.9" fill="#8c8c8c"/>
<circle cx="305.17" cy="349.95" r="0.9" fill="#8c8c8c"/>
<circle cx="315.20" cy="369.27" r="0.9" fill="#8c8c8c"/>
<circle cx="326.84" cy="382.91" r="0.9" fill="#8c8c8c"/>
<circle cx="340.35" cy="387.55" r="0.9" fill="#8c8c8c"/>
<circle cx="356.04" cy="389.09" r="0.9" fill="#8c8c8c"/>
<circle cx="374.26" cy="389.35" r="0.9" fill="#8c8c8c"/>
<circle cx="375.10" cy="389.35" r="0.9" fill="#8c8c8c"/>
<polyline points="242.90,389.35 243.42,389.35 243.51,389.35 243.61,389.35 243.72,389.35 243.85,389.35 244.01,389.35 244.18,389.35 244.39,389.35 244.63,389.35 244.91,389.35 245.23,389.35 245.61,389.35 246.05,389.35 246.55,389.35 247.14,389.35 247.82,389.35 248.61,389.35 249.53,389.35 250.60,389.35 251.84,389.35 253.28,389.35 254.95,389.35 256.90,389.35 259.15,389.35 261.76,389.35 264.80,389.35 268.33,388.84 272.42,374.67 277.18,352.53 282.69,334.50 289.10,330.38 296.54,341.71 305.17,361.28 315.20,378.79 326.84,387.29 340.35,389.09 356.04,389.35 374.26,389.35 375.10,389.35" fill="none" stroke="#3cc49c" stroke-width="0.95" stroke-linejoin="round"/>
<circle cx="251.84" cy="389.35" r="0.9" fill="#3cc49c"/>
<circle cx="253.28" cy="389.35" r="0.9" fill="#3cc49c"/>
<circle cx="254.95" cy="389.35" r="0.9" fill="#3cc49c"/>
<circle cx="256.90" cy="389.35" r="0.9" fill="#3cc49c"/>
<circle cx="259.15" cy="389.35" r="0.9" fill="#3cc49c"/>
<circle cx="261.76" cy="389.35" r="0.9" fill="#3cc49c"/>
<circle cx="264.80" cy="389.35" r="0.9" fill="#3cc49c"/>
<circle cx="268.33" cy="388.84" r="0.9" fill="#3cc49c"/>
<circle cx="272.42" cy="374.67" r="0.9" fill="#3cc49c"/>
<circle cx="277.18" cy="352.53" r="0.9" fill="#3cc49c"/>
<circle cx="282.69" cy="334.50" r="0.9" fill="#3cc49c"/>
<circle cx="289.10" cy="330.38" r="0.9" fill="#3cc49c"/>
<circle cx="296.54" cy="341.71" r="0.9" fill="#3cc49c"/>
<circle cx="305.17" cy="361.28" r="0.9" fill="#3cc49c"/>
<circle cx="315.20" cy="378.79" r="0.9" fill="#3cc49c"/>
<circle cx="326.84" cy="387.29" r="0.9" fill="#3cc49c"/>
<circle cx="340.35" cy="389.09" r="0.9" fill="#3cc49c"/>
<circle cx="356.04" cy="389.35" r="0.9" fill="#3cc49c"/>
<circle cx="374.26" cy="389.35" r="0.9" fill="#3cc49c"/>
<circle cx="375.10" cy="389.35" r="0.9" fill="#3cc49c"/>
<path d="M242.90,286.35 V389.35 H375.10" fill="none" stroke="#5a5a5a" stroke-width="1.1"/>
<line x1="240.30" y1="389.35" x2="242.90" y2="389.35" stroke="#5a5a5a" stroke-width="0.9"/>
<text x="239.30" y="391.45" class="tk" text-anchor="end">0</text>
<line x1="240.30" y1="363.60" x2="242.90" y2="363.60" stroke="#5a5a5a" stroke-width="0.9"/>
<text x="239.30" y="365.70" class="tk" text-anchor="end">10</text>
<line x1="240.30" y1="337.85" x2="242.90" y2="337.85" stroke="#5a5a5a" stroke-width="0.9"/>
<text x="239.30" y="339.95" class="tk" text-anchor="end">20</text>
<line x1="240.30" y1="312.10" x2="242.90" y2="312.10" stroke="#5a5a5a" stroke-width="0.9"/>
<text x="239.30" y="314.20" class="tk" text-anchor="end">30</text>
<line x1="240.30" y1="286.35" x2="242.90" y2="286.35" stroke="#5a5a5a" stroke-width="0.9"/>
<text x="239.30" y="288.45" class="tk" text-anchor="end">40</text>
<line x1="242.90" y1="389.35" x2="242.90" y2="392.35" stroke="#5a5a5a" stroke-width="0.9"/>
<text x="242.90" y="398.55" class="tk" text-anchor="middle">0</text>
<line x1="264.90" y1="389.35" x2="264.90" y2="391.15" stroke="#5a5a5a" stroke-width="0.9"/>
<line x1="286.90" y1="389.35" x2="286.90" y2="392.35" stroke="#5a5a5a" stroke-width="0.9"/>
<text x="286.90" y="398.55" class="tk" text-anchor="middle">1000</text>
<line x1="308.90" y1="389.35" x2="308.90" y2="391.15" stroke="#5a5a5a" stroke-width="0.9"/>
<line x1="330.90" y1="389.35" x2="330.90" y2="392.35" stroke="#5a5a5a" stroke-width="0.9"/>
<text x="330.90" y="398.55" class="tk" text-anchor="middle">2000</text>
<line x1="352.90" y1="389.35" x2="352.90" y2="391.15" stroke="#5a5a5a" stroke-width="0.9"/>
<line x1="374.90" y1="389.35" x2="374.90" y2="392.35" stroke="#5a5a5a" stroke-width="0.9"/>
<text x="374.90" y="398.55" class="tk" text-anchor="middle">3000</text>
<text x="308.90" y="407.15" class="xl" text-anchor="middle">hydrodynamic size (diameter in nm)</text>
<text transform="translate(229.00,337.95) rotate(-90) scale(1,0.8)" class="yl" text-anchor="middle">intensity in %</text>
<polyline points="406.80,389.35 407.32,389.35 407.41,389.35 407.51,389.35 407.62,389.35 407.75,389.35 407.91,389.35 408.08,389.35 408.29,389.35 408.53,389.35 408.81,389.35 409.13,389.35 409.51,389.35 409.95,389.35 410.45,389.35 411.04,389.35 411.72,389.35 412.51,389.35 413.43,389.35 414.50,389.35 415.74,389.35 417.18,389.35 418.85,389.35 420.80,389.35 423.05,389.35 425.66,389.35 428.70,389.35 432.23,389.35 436.32,384.20 441.08,367.72 446.59,344.80 453.00,330.38 460.44,331.67 469.07,347.38 479.10,368.75 490.74,383.43 504.25,388.84 519.94,389.35 538.16,389.35 539.00,389.35" fill="none" stroke="#8c8c8c" stroke-width="0.85" stroke-linejoin="round"/>
<circle cx="415.74" cy="389.35" r="0.9" fill="#8c8c8c"/>
<circle cx="417.18" cy="389.35" r="0.9" fill="#8c8c8c"/>
<circle cx="418.85" cy="389.35" r="0.9" fill="#8c8c8c"/>
<circle cx="420.80" cy="389.35" r="0.9" fill="#8c8c8c"/>
<circle cx="423.05" cy="389.35" r="0.9" fill="#8c8c8c"/>
<circle cx="425.66" cy="389.35" r="0.9" fill="#8c8c8c"/>
<circle cx="428.70" cy="389.35" r="0.9" fill="#8c8c8c"/>
<circle cx="432.23" cy="389.35" r="0.9" fill="#8c8c8c"/>
<circle cx="436.32" cy="384.20" r="0.9" fill="#8c8c8c"/>
<circle cx="441.08" cy="367.72" r="0.9" fill="#8c8c8c"/>
<circle cx="446.59" cy="344.80" r="0.9" fill="#8c8c8c"/>
<circle cx="453.00" cy="330.38" r="0.9" fill="#8c8c8c"/>
<circle cx="460.44" cy="331.67" r="0.9" fill="#8c8c8c"/>
<circle cx="469.07" cy="347.38" r="0.9" fill="#8c8c8c"/>
<circle cx="479.10" cy="368.75" r="0.9" fill="#8c8c8c"/>
<circle cx="490.74" cy="383.43" r="0.9" fill="#8c8c8c"/>
<circle cx="504.25" cy="388.84" r="0.9" fill="#8c8c8c"/>
<circle cx="519.94" cy="389.35" r="0.9" fill="#8c8c8c"/>
<circle cx="538.16" cy="389.35" r="0.9" fill="#8c8c8c"/>
<circle cx="539.00" cy="389.35" r="0.9" fill="#8c8c8c"/>
<polyline points="406.80,389.35 407.32,389.35 407.41,389.35 407.51,389.35 407.62,389.35 407.75,389.35 407.91,389.35 408.08,389.35 408.29,389.35 408.53,389.35 408.81,389.35 409.13,389.35 409.51,389.35 409.95,389.35 410.45,389.35 411.04,389.35 411.72,389.35 412.51,389.35 413.43,389.35 414.50,389.35 415.74,389.35 417.18,389.35 418.85,389.35 420.80,389.35 423.05,389.35 425.66,389.35 428.70,389.35 432.23,389.35 436.32,378.54 441.08,354.85 446.59,332.19 453.00,325.49 460.44,337.08 469.07,361.03 479.10,380.85 490.74,389.09 504.25,389.35 519.94,389.35 538.16,389.35 539.00,389.35" fill="none" stroke="#3a9cba" stroke-width="0.95" stroke-linejoin="round"/>
<circle cx="415.74" cy="389.35" r="0.9" fill="#3a9cba"/>
<circle cx="417.18" cy="389.35" r="0.9" fill="#3a9cba"/>
<circle cx="418.85" cy="389.35" r="0.9" fill="#3a9cba"/>
<circle cx="420.80" cy="389.35" r="0.9" fill="#3a9cba"/>
<circle cx="423.05" cy="389.35" r="0.9" fill="#3a9cba"/>
<circle cx="425.66" cy="389.35" r="0.9" fill="#3a9cba"/>
<circle cx="428.70" cy="389.35" r="0.9" fill="#3a9cba"/>
<circle cx="432.23" cy="389.35" r="0.9" fill="#3a9cba"/>
<circle cx="436.32" cy="378.54" r="0.9" fill="#3a9cba"/>
<circle cx="441.08" cy="354.85" r="0.9" fill="#3a9cba"/>
<circle cx="446.59" cy="332.19" r="0.9" fill="#3a9cba"/>
<circle cx="453.00" cy="325.49" r="0.9" fill="#3a9cba"/>
<circle cx="460.44" cy="337.08" r="0.9" fill="#3a9cba"/>
<circle cx="469.07" cy="361.03" r="0.9" fill="#3a9cba"/>
<circle cx="479.10" cy="380.85" r="0.9" fill="#3a9cba"/>
<circle cx="490.74" cy="389.09" r="0.9" fill="#3a9cba"/>
<circle cx="504.25" cy="389.35" r="0.9" fill="#3a9cba"/>
<circle cx="519.94" cy="389.35" r="0.9" fill="#3a9cba"/>
<circle cx="538.16" cy="389.35" r="0.9" fill="#3a9cba"/>
<circle cx="539.00" cy="389.35" r="0.9" fill="#3a9cba"/>
<path d="M406.80,286.35 V389.35 H539.00" fill="none" stroke="#5a5a5a" stroke-width="1.1"/>
<line x1="404.20" y1="389.35" x2="406.80" y2="389.35" stroke="#5a5a5a" stroke-width="0.9"/>
<text x="403.20" y="391.45" class="tk" text-anchor="end">0</text>
<line x1="404.20" y1="363.60" x2="406.80" y2="363.60" stroke="#5a5a5a" stroke-width="0.9"/>
<text x="403.20" y="365.70" class="tk" text-anchor="end">10</text>
<line x1="404.20" y1="337.85" x2="406.80" y2="337.85" stroke="#5a5a5a" stroke-width="0.9"/>
<text x="403.20" y="339.95" class="tk" text-anchor="end">20</text>
<line x1="404.20" y1="312.10" x2="406.80" y2="312.10" stroke="#5a5a5a" stroke-width="0.9"/>
<text x="403.20" y="314.20" class="tk" text-anchor="end">30</text>
<line x1="404.20" y1="286.35" x2="406.80" y2="286.35" stroke="#5a5a5a" stroke-width="0.9"/>
<text x="403.20" y="288.45" class="tk" text-anchor="end">40</text>
<line x1="406.80" y1="389.35" x2="406.80" y2="392.35" stroke="#5a5a5a" stroke-width="0.9"/>
<text x="406.80" y="398.55" class="tk" text-anchor="middle">0</text>
<line x1="428.80" y1="389.35" x2="428.80" y2="391.15" stroke="#5a5a5a" stroke-width="0.9"/>
<line x1="450.80" y1="389.35" x2="450.80" y2="392.35" stroke="#5a5a5a" stroke-width="0.9"/>
<text x="450.80" y="398.55" class="tk" text-anchor="middle">1000</text>
<line x1="472.80" y1="389.35" x2="472.80" y2="391.15" stroke="#5a5a5a" stroke-width="0.9"/>
<line x1="494.80" y1="389.35" x2="494.80" y2="392.35" stroke="#5a5a5a" stroke-width="0.9"/>
<text x="494.80" y="398.55" class="tk" text-anchor="middle">2000</text>
<line x1="516.80" y1="389.35" x2="516.80" y2="391.15" stroke="#5a5a5a" stroke-width="0.9"/>
<line x1="538.80" y1="389.35" x2="538.80" y2="392.35" stroke="#5a5a5a" stroke-width="0.9"/>
<text x="538.80" y="398.55" class="tk" text-anchor="middle">3000</text>
<text x="472.80" y="407.15" class="xl" text-anchor="middle">hydrodynamic size (diameter in nm)</text>
<text transform="translate(392.90,337.95) rotate(-90) scale(1,0.8)" class="yl" text-anchor="middle">intensity in %</text>
<polyline points="74.90,528.90 75.42,528.90 75.51,528.90 75.61,528.90 75.72,528.90 75.85,528.90 76.01,528.90 76.18,528.90 76.39,528.90 76.63,528.90 76.91,528.90 77.23,528.90 77.61,528.90 78.05,528.90 78.55,528.90 79.14,528.90 79.82,528.90 80.61,528.90 81.53,528.90 82.60,528.90 83.84,528.90 85.28,528.90 86.95,528.90 88.90,528.90 91.15,528.90 93.76,528.90 96.80,528.90 100.33,528.90 104.42,522.98 109.18,509.84 114.69,492.08 121.10,479.72 128.54,476.88 137.17,485.90 147.20,500.06 158.84,515.25 172.35,524.52 188.04,528.13 206.26,528.90 207.10,528.90" fill="none" stroke="#8c8c8c" stroke-width="0.85" stroke-linejoin="round"/>
<circle cx="83.84" cy="528.90" r="0.9" fill="#8c8c8c"/>
<circle cx="85.28" cy="528.90" r="0.9" fill="#8c8c8c"/>
<circle cx="86.95" cy="528.90" r="0.9" fill="#8c8c8c"/>
<circle cx="88.90" cy="528.90" r="0.9" fill="#8c8c8c"/>
<circle cx="91.15" cy="528.90" r="0.9" fill="#8c8c8c"/>
<circle cx="93.76" cy="528.90" r="0.9" fill="#8c8c8c"/>
<circle cx="96.80" cy="528.90" r="0.9" fill="#8c8c8c"/>
<circle cx="100.33" cy="528.90" r="0.9" fill="#8c8c8c"/>
<circle cx="104.42" cy="522.98" r="0.9" fill="#8c8c8c"/>
<circle cx="109.18" cy="509.84" r="0.9" fill="#8c8c8c"/>
<circle cx="114.69" cy="492.08" r="0.9" fill="#8c8c8c"/>
<circle cx="121.10" cy="479.72" r="0.9" fill="#8c8c8c"/>
<circle cx="128.54" cy="476.88" r="0.9" fill="#8c8c8c"/>
<circle cx="137.17" cy="485.90" r="0.9" fill="#8c8c8c"/>
<circle cx="147.20" cy="500.06" r="0.9" fill="#8c8c8c"/>
<circle cx="158.84" cy="515.25" r="0.9" fill="#8c8c8c"/>
<circle cx="172.35" cy="524.52" r="0.9" fill="#8c8c8c"/>
<circle cx="188.04" cy="528.13" r="0.9" fill="#8c8c8c"/>
<circle cx="206.26" cy="528.90" r="0.9" fill="#8c8c8c"/>
<circle cx="207.10" cy="528.90" r="0.9" fill="#8c8c8c"/>
<polyline points="74.90,528.90 75.42,528.90 75.51,528.90 75.61,528.90 75.72,528.90 75.85,528.90 76.01,528.90 76.18,528.90 76.39,528.90 76.63,528.90 76.91,528.90 77.23,528.90 77.61,528.90 78.05,528.90 78.55,528.90 79.14,528.90 79.82,528.90 80.61,528.90 81.53,528.90 82.60,528.90 83.84,528.90 85.28,528.90 86.95,528.90 88.90,528.90 91.15,528.90 93.76,528.90 96.80,528.90 100.33,528.90 104.42,528.90 109.18,528.90 114.69,528.90 121.10,527.36 128.54,514.74 137.17,487.96 147.20,470.70 158.84,474.31 172.35,491.05 188.04,507.27 206.26,516.80 207.10,517.05" fill="none" stroke="#7ddf5c" stroke-width="0.95" stroke-linejoin="round"/>
<circle cx="83.84" cy="528.90" r="0.9" fill="#7ddf5c"/>
<circle cx="85.28" cy="528.90" r="0.9" fill="#7ddf5c"/>
<circle cx="86.95" cy="528.90" r="0.9" fill="#7ddf5c"/>
<circle cx="88.90" cy="528.90" r="0.9" fill="#7ddf5c"/>
<circle cx="91.15" cy="528.90" r="0.9" fill="#7ddf5c"/>
<circle cx="93.76" cy="528.90" r="0.9" fill="#7ddf5c"/>
<circle cx="96.80" cy="528.90" r="0.9" fill="#7ddf5c"/>
<circle cx="100.33" cy="528.90" r="0.9" fill="#7ddf5c"/>
<circle cx="104.42" cy="528.90" r="0.9" fill="#7ddf5c"/>
<circle cx="109.18" cy="528.90" r="0.9" fill="#7ddf5c"/>
<circle cx="114.69" cy="528.90" r="0.9" fill="#7ddf5c"/>
<circle cx="121.10" cy="527.36" r="0.9" fill="#7ddf5c"/>
<circle cx="128.54" cy="514.74" r="0.9" fill="#7ddf5c"/>
<circle cx="137.17" cy="487.96" r="0.9" fill="#7ddf5c"/>
<circle cx="147.20" cy="470.70" r="0.9" fill="#7ddf5c"/>
<circle cx="158.84" cy="474.31" r="0.9" fill="#7ddf5c"/>
<circle cx="172.35" cy="491.05" r="0.9" fill="#7ddf5c"/>
<circle cx="188.04" cy="507.27" r="0.9" fill="#7ddf5c"/>
<circle cx="206.26" cy="516.80" r="0.9" fill="#7ddf5c"/>
<circle cx="207.10" cy="517.05" r="0.9" fill="#7ddf5c"/>
<path d="M74.90,425.90 V528.90 H207.10" fill="none" stroke="#5a5a5a" stroke-width="1.1"/>
<line x1="72.30" y1="528.90" x2="74.90" y2="528.90" stroke="#5a5a5a" stroke-width="0.9"/>
<text x="71.30" y="531.00" class="tk" text-anchor="end">0</text>
<line x1="72.30" y1="503.15" x2="74.90" y2="503.15" stroke="#5a5a5a" stroke-width="0.9"/>
<text x="71.30" y="505.25" class="tk" text-anchor="end">10</text>
<line x1="72.30" y1="477.40" x2="74.90" y2="477.40" stroke="#5a5a5a" stroke-width="0.9"/>
<text x="71.30" y="479.50" class="tk" text-anchor="end">20</text>
<line x1="72.30" y1="451.65" x2="74.90" y2="451.65" stroke="#5a5a5a" stroke-width="0.9"/>
<text x="71.30" y="453.75" class="tk" text-anchor="end">30</text>
<line x1="72.30" y1="425.90" x2="74.90" y2="425.90" stroke="#5a5a5a" stroke-width="0.9"/>
<text x="71.30" y="428.00" class="tk" text-anchor="end">40</text>
<line x1="74.90" y1="528.90" x2="74.90" y2="531.90" stroke="#5a5a5a" stroke-width="0.9"/>
<text x="74.90" y="538.10" class="tk" text-anchor="middle">0</text>
<line x1="96.90" y1="528.90" x2="96.90" y2="530.70" stroke="#5a5a5a" stroke-width="0.9"/>
<line x1="118.90" y1="528.90" x2="118.90" y2="531.90" stroke="#5a5a5a" stroke-width="0.9"/>
<text x="118.90" y="538.10" class="tk" text-anchor="middle">1000</text>
<line x1="140.90" y1="528.90" x2="140.90" y2="530.70" stroke="#5a5a5a" stroke-width="0.9"/>
<line x1="162.90" y1="528.90" x2="162.90" y2="531.90" stroke="#5a5a5a" stroke-width="0.9"/>
<text x="162.90" y="538.10" class="tk" text-anchor="middle">2000</text>
<line x1="184.90" y1="528.90" x2="184.90" y2="530.70" stroke="#5a5a5a" stroke-width="0.9"/>
<line x1="206.90" y1="528.90" x2="206.90" y2="531.90" stroke="#5a5a5a" stroke-width="0.9"/>
<text x="206.90" y="538.10" class="tk" text-anchor="middle">3000</text>
<text x="140.90" y="546.70" class="xl" text-anchor="middle">hydrodynamic size (diameter in nm)</text>
<text transform="translate(61.00,477.50) rotate(-90) scale(1,0.8)" class="yl" text-anchor="middle">intensity in %</text>
<polyline points="242.90,528.90 243.42,528.90 243.51,528.90 243.61,528.90 243.72,528.90 243.85,528.90 244.01,528.90 244.18,528.90 244.39,528.90 244.63,528.90 244.91,528.90 245.23,528.90 245.61,528.90 246.05,528.90 246.55,528.90 247.14,528.90 247.82,528.90 248.61,528.90 249.53,528.90 250.60,528.90 251.84,528.90 253.28,528.90 254.95,528.90 256.90,528.90 259.15,528.90 261.76,528.90 264.80,528.90 268.33,528.90 272.42,528.90 277.18,517.31 282.69,498.26 289.10,479.72 296.54,471.22 305.17,477.14 315.20,493.11 326.84,511.90 340.35,524.52 356.04,527.87 374.26,528.90 375.10,528.90" fill="none" stroke="#8c8c8c" stroke-width="0.85" stroke-linejoin="round"/>
<circle cx="251.84" cy="528.90" r="0.9" fill="#8c8c8c"/>
<circle cx="253.28" cy="528.90" r="0.9" fill="#8c8c8c"/>
<circle cx="254.95" cy="528.90" r="0.9" fill="#8c8c8c"/>
<circle cx="256.90" cy="528.90" r="0.9" fill="#8c8c8c"/>
<circle cx="259.15" cy="528.90" r="0.9" fill="#8c8c8c"/>
<circle cx="261.76" cy="528.90" r="0.9" fill="#8c8c8c"/>
<circle cx="264.80" cy="528.90" r="0.9" fill="#8c8c8c"/>
<circle cx="268.33" cy="528.90" r="0.9" fill="#8c8c8c"/>
<circle cx="272.42" cy="528.90" r="0.9" fill="#8c8c8c"/>
<circle cx="277.18" cy="517.31" r="0.9" fill="#8c8c8c"/>
<circle cx="282.69" cy="498.26" r="0.9" fill="#8c8c8c"/>
<circle cx="289.10" cy="479.72" r="0.9" fill="#8c8c8c"/>
<circle cx="296.54" cy="471.22" r="0.9" fill="#8c8c8c"/>
<circle cx="305.17" cy="477.14" r="0.9" fill="#8c8c8c"/>
<circle cx="315.20" cy="493.11" r="0.9" fill="#8c8c8c"/>
<circle cx="326.84" cy="511.90" r="0.9" fill="#8c8c8c"/>
<circle cx="340.35" cy="524.52" r="0.9" fill="#8c8c8c"/>
<circle cx="356.04" cy="527.87" r="0.9" fill="#8c8c8c"/>
<circle cx="374.26" cy="528.90" r="0.9" fill="#8c8c8c"/>
<circle cx="375.10" cy="528.90" r="0.9" fill="#8c8c8c"/>
<polyline points="242.90,528.90 243.42,528.90 243.51,528.90 243.61,528.90 243.72,528.90 243.85,528.90 244.01,528.90 244.18,528.90 244.39,528.90 244.63,528.90 244.91,528.90 245.23,528.90 245.61,528.90 246.05,528.90 246.55,528.90 247.14,528.90 247.82,528.90 248.61,528.90 249.53,528.90 250.60,528.90 251.84,528.90 253.28,528.90 254.95,528.90 256.90,528.90 259.15,528.90 261.76,528.90 264.80,528.90 268.33,528.38 272.42,525.04 277.18,515.51 282.69,500.83 289.10,487.96 296.54,481.78 305.17,484.35 315.20,494.39 326.84,507.27 340.35,518.34 356.04,525.29 374.26,527.87 375.10,527.91" fill="none" stroke="#3cc49c" stroke-width="0.95" stroke-linejoin="round"/>
<circle cx="251.84" cy="528.90" r="0.9" fill="#3cc49c"/>
<circle cx="253.28" cy="528.90" r="0.9" fill="#3cc49c"/>
<circle cx="254.95" cy="528.90" r="0.9" fill="#3cc49c"/>
<circle cx="256.90" cy="528.90" r="0.9" fill="#3cc49c"/>
<circle cx="259.15" cy="528.90" r="0.9" fill="#3cc49c"/>
<circle cx="261.76" cy="528.90" r="0.9" fill="#3cc49c"/>
<circle cx="264.80" cy="528.90" r="0.9" fill="#3cc49c"/>
<circle cx="268.33" cy="528.38" r="0.9" fill="#3cc49c"/>
<circle cx="272.42" cy="525.04" r="0.9" fill="#3cc49c"/>
<circle cx="277.18" cy="515.51" r="0.9" fill="#3cc49c"/>
<circle cx="282.69" cy="500.83" r="0.9" fill="#3cc49c"/>
<circle cx="289.10" cy="487.96" r="0.9" fill="#3cc49c"/>
<circle cx="296.54" cy="481.78" r="0.9" fill="#3cc49c"/>
<circle cx="305.17" cy="484.35" r="0.9" fill="#3cc49c"/>
<circle cx="315.20" cy="494.39" r="0.9" fill="#3cc49c"/>
<circle cx="326.84" cy="507.27" r="0.9" fill="#3cc49c"/>
<circle cx="340.35" cy="518.34" r="0.9" fill="#3cc49c"/>
<circle cx="356.04" cy="525.29" r="0.9" fill="#3cc49c"/>
<circle cx="374.26" cy="527.87" r="0.9" fill="#3cc49c"/>
<circle cx="375.10" cy="527.91" r="0.9" fill="#3cc49c"/>
<path d="M242.90,425.90 V528.90 H375.10" fill="none" stroke="#5a5a5a" stroke-width="1.1"/>
<line x1="240.30" y1="528.90" x2="242.90" y2="528.90" stroke="#5a5a5a" stroke-width="0.9"/>
<text x="239.30" y="531.00" class="tk" text-anchor="end">0</text>
<line x1="240.30" y1="503.15" x2="242.90" y2="503.15" stroke="#5a5a5a" stroke-width="0.9"/>
<text x="239.30" y="505.25" class="tk" text-anchor="end">10</text>
<line x1="240.30" y1="477.40" x2="242.90" y2="477.40" stroke="#5a5a5a" stroke-width="0.9"/>
<text x="239.30" y="479.50" class="tk" text-anchor="end">20</text>
<line x1="240.30" y1="451.65" x2="242.90" y2="451.65" stroke="#5a5a5a" stroke-width="0.9"/>
<text x="239.30" y="453.75" class="tk" text-anchor="end">30</text>
<line x1="240.30" y1="425.90" x2="242.90" y2="425.90" stroke="#5a5a5a" stroke-width="0.9"/>
<text x="239.30" y="428.00" class="tk" text-anchor="end">40</text>
<line x1="242.90" y1="528.90" x2="242.90" y2="531.90" stroke="#5a5a5a" stroke-width="0.9"/>
<text x="242.90" y="538.10" class="tk" text-anchor="middle">0</text>
<line x1="264.90" y1="528.90" x2="264.90" y2="530.70" stroke="#5a5a5a" stroke-width="0.9"/>
<line x1="286.90" y1="528.90" x2="286.90" y2="531.90" stroke="#5a5a5a" stroke-width="0.9"/>
<text x="286.90" y="538.10" class="tk" text-anchor="middle">1000</text>
<line x1="308.90" y1="528.90" x2="308.90" y2="530.70" stroke="#5a5a5a" stroke-width="0.9"/>
<line x1="330.90" y1="528.90" x2="330.90" y2="531.90" stroke="#5a5a5a" stroke-width="0.9"/>
<text x="330.90" y="538.10" class="tk" text-anchor="middle">2000</text>
<line x1="352.90" y1="528.90" x2="352.90" y2="530.70" stroke="#5a5a5a" stroke-width="0.9"/>
<line x1="374.90" y1="528.90" x2="374.90" y2="531.90" stroke="#5a5a5a" stroke-width="0.9"/>
<text x="374.90" y="538.10" class="tk" text-anchor="middle">3000</text>
<text x="308.90" y="546.70" class="xl" text-anchor="middle">hydrodynamic size (diameter in nm)</text>
<text transform="translate(229.00,477.50) rotate(-90) scale(1,0.8)" class="yl" text-anchor="middle">intensity in %</text>
<polyline points="406.80,528.90 407.32,528.90 407.41,528.90 407.51,528.90 407.62,528.90 407.75,528.90 407.91,528.90 408.08,528.90 408.29,528.90 408.53,528.90 408.81,528.90 409.13,528.90 409.51,528.90 409.95,528.90 410.45,528.90 411.04,528.90 411.72,528.90 412.51,528.90 413.43,528.90 414.50,528.90 415.74,528.90 417.18,528.90 418.85,528.90 420.80,528.90 423.05,528.90 425.66,528.90 428.70,528.90 432.23,528.90 436.32,520.92 441.08,504.44 446.59,486.15 453.00,475.60 460.44,476.88 469.07,490.79 479.10,505.47 490.74,519.89 504.25,527.10 519.94,528.90 538.16,528.90 539.00,528.90" fill="none" stroke="#8c8c8c" stroke-width="0.85" stroke-linejoin="round"/>
<circle cx="415.74" cy="528.90" r="0.9" fill="#8c8c8c"/>
<circle cx="417.18" cy="528.90" r="0.9" fill="#8c8c8c"/>
<circle cx="418.85" cy="528.90" r="0.9" fill="#8c8c8c"/>
<circle cx="420.80" cy="528.90" r="0.9" fill="#8c8c8c"/>
<circle cx="423.05" cy="528.90" r="0.9" fill="#8c8c8c"/>
<circle cx="425.66" cy="528.90" r="0.9" fill="#8c8c8c"/>
<circle cx="428.70" cy="528.90" r="0.9" fill="#8c8c8c"/>
<circle cx="432.23" cy="528.90" r="0.9" fill="#8c8c8c"/>
<circle cx="436.32" cy="520.92" r="0.9" fill="#8c8c8c"/>
<circle cx="441.08" cy="504.44" r="0.9" fill="#8c8c8c"/>
<circle cx="446.59" cy="486.15" r="0.9" fill="#8c8c8c"/>
<circle cx="453.00" cy="475.60" r="0.9" fill="#8c8c8c"/>
<circle cx="460.44" cy="476.88" r="0.9" fill="#8c8c8c"/>
<circle cx="469.07" cy="490.79" r="0.9" fill="#8c8c8c"/>
<circle cx="479.10" cy="505.47" r="0.9" fill="#8c8c8c"/>
<circle cx="490.74" cy="519.89" r="0.9" fill="#8c8c8c"/>
<circle cx="504.25" cy="527.10" r="0.9" fill="#8c8c8c"/>
<circle cx="519.94" cy="528.90" r="0.9" fill="#8c8c8c"/>
<circle cx="538.16" cy="528.90" r="0.9" fill="#8c8c8c"/>
<circle cx="539.00" cy="528.90" r="0.9" fill="#8c8c8c"/>
<polyline points="406.80,528.90 407.32,528.90 407.41,528.90 407.51,528.90 407.62,528.90 407.75,528.90 407.91,528.90 408.08,528.90 408.29,528.90 408.53,528.90 408.81,528.90 409.13,528.90 409.51,528.90 409.95,528.90 410.45,528.90 411.04,528.90 411.72,528.90 412.51,528.90 413.43,528.90 414.50,528.90 415.74,528.90 417.18,528.90 418.85,528.90 420.80,528.90 423.05,528.90 425.66,528.90 428.70,528.90 432.23,528.90 436.32,519.89 441.08,499.03 446.59,478.43 453.00,469.42 460.44,477.14 469.07,494.39 479.10,514.22 490.74,525.81 504.25,528.38 519.94,528.90 538.16,528.90 539.00,528.90" fill="none" stroke="#3a9cba" stroke-width="0.95" stroke-linejoin="round"/>
<circle cx="415.74" cy="528.90" r="0.9" fill="#3a9cba"/>
<circle cx="417.18" cy="528.90" r="0.9" fill="#3a9cba"/>
<circle cx="418.85" cy="528.90" r="0.9" fill="#3a9cba"/>
<circle cx="420.80" cy="528.90" r="0.9" fill="#3a9cba"/>
<circle cx="423.05" cy="528.90" r="0.9" fill="#3a9cba"/>
<circle cx="425.66" cy="528.90" r="0.9" fill="#3a9cba"/>
<circle cx="428.70" cy="528.90" r="0.9" fill="#3a9cba"/>
<circle cx="432.23" cy="528.90" r="0.9" fill="#3a9cba"/>
<circle cx="436.32" cy="519.89" r="0.9" fill="#3a9cba"/>
<circle cx="441.08" cy="499.03" r="0.9" fill="#3a9cba"/>
<circle cx="446.59" cy="478.43" r="0.9" fill="#3a9cba"/>
<circle cx="453.00" cy="469.42" r="0.9" fill="#3a9cba"/>
<circle cx="460.44" cy="477.14" r="0.9" fill="#3a9cba"/>
<circle cx="469.07" cy="494.39" r="0.9" fill="#3a9cba"/>
<circle cx="479.10" cy="514.22" r="0.9" fill="#3a9cba"/>
<circle cx="490.74" cy="525.81" r="0.9" fill="#3a9cba"/>
<circle cx="504.25" cy="528.38" r="0.9" fill="#3a9cba"/>
<circle cx="519.94" cy="528.90" r="0.9" fill="#3a9cba"/>
<circle cx="538.16" cy="528.90" r="0.9" fill="#3a9cba"/>
<circle cx="539.00" cy="528.90" r="0.9" fill="#3a9cba"/>
<path d="M406.80,425.90 V528.90 H539.00" fill="none" stroke="#5a5a5a" stroke-width="1.1"/>
<line x1="404.20" y1="528.90" x2="406.80" y2="528.90" stroke="#5a5a5a" stroke-width="0.9"/>
<text x="403.20" y="531.00" class="tk" text-anchor="end">0</text>
<line x1="404.20" y1="503.15" x2="406.80" y2="503.15" stroke="#5a5a5a" stroke-width="0.9"/>
<text x="403.20" y="505.25" class="tk" text-anchor="end">10</text>
<line x1="404.20" y1="477.40" x2="406.80" y2="477.40" stroke="#5a5a5a" stroke-width="0.9"/>
<text x="403.20" y="479.50" class="tk" text-anchor="end">20</text>
<line x1="404.20" y1="451.65" x2="406.80" y2="451.65" stroke="#5a5a5a" stroke-width="0.9"/>
<text x="403.20" y="453.75" class="tk" text-anchor="end">30</text>
<line x1="404.20" y1="425.90" x2="406.80" y2="425.90" stroke="#5a5a5a" stroke-width="0.9"/>
<text x="403.20" y="428.00" class="tk" text-anchor="end">40</text>
<line x1="406.80" y1="528.90" x2="406.80" y2="531.90" stroke="#5a5a5a" stroke-width="0.9"/>
<text x="406.80" y="538.10" class="tk" text-anchor="middle">0</text>
<line x1="428.80" y1="528.90" x2="428.80" y2="530.70" stroke="#5a5a5a" stroke-width="0.9"/>
<line x1="450.80" y1="528.90" x2="450.80" y2="531.90" stroke="#5a5a5a" stroke-width="0.9"/>
<text x="450.80" y="538.10" class="tk" text-anchor="middle">1000</text>
<line x1="472.80" y1="528.90" x2="472.80" y2="530.70" stroke="#5a5a5a" stroke-width="0.9"/>
<line x1="494.80" y1="528.90" x2="494.80" y2="531.90" stroke="#5a5a5a" stroke-width="0.9"/>
<text x="494.80" y="538.10" class="tk" text-anchor="middle">2000</text>
<line x1="516.80" y1="528.90" x2="516.80" y2="530.70" stroke="#5a5a5a" stroke-width="0.9"/>
<line x1="538.80" y1="528.90" x2="538.80" y2="531.90" stroke="#5a5a5a" stroke-width="0.9"/>
<text x="538.80" y="538.10" class="tk" text-anchor="middle">3000</text>
<text x="472.80" y="546.70" class="xl" text-anchor="middle">hydrodynamic size (diameter in nm)</text>
<text transform="translate(392.90,477.50) rotate(-90) scale(1,0.8)" class="yl" text-anchor="middle">intensity in %</text>
</svg>
</body></html>
